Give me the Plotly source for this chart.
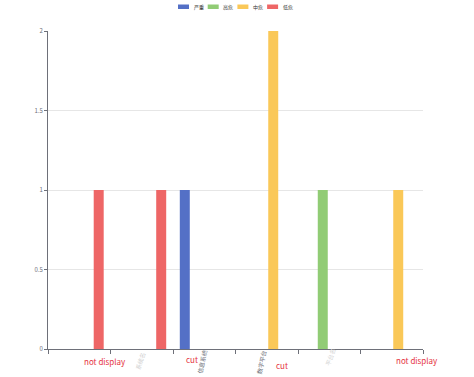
import plotly.graph_objects as go

categories = ["类别A", "类别B", "信息系统", "数字平台", "类别E", "类别F"]
series_names = ["严重", "高危", "中危", "低危"]
series_colors = ["#5470c6", "#91cc75", "#fac858", "#ee6666"]
values_severe = [None, None, 1, None, None, None]
values_high = [None, None, None, None, 1, None]
values_mid = [None, None, None, 2, None, 1]
values_low = [1, 1, None, None, None, None]
y_ticks = [0, 0.5, 1, 1.5, 2]

W, H = 474, 377
L, R, T, B = 48, 51, 31, 28
pw, ph = W - L - R, H - T - B

def px_x(p):
    return (p - L) / pw

def px_y(p):
    return (H - B - p) / ph

# label annotations: (text, x index, pixel y centre, color, angle, size)
label_notes = [
    ("not display", 0.41, 361, "#e5323e", 0, 8),
    ("cut", 1.80, 359, "#e5323e", 0, 8),
    ("cut", 3.24, 365, "#e5323e", 0, 8),
    ("not display", 5.40, 360, "#e5323e", 0, 8),
    ("系统名", 0.97, 361, "#cfcfcf", -72, 6),
    ("信息系统", 1.96, 362, "#6E7079", -78, 6),
    ("数字平台", 2.91, 362, "#6E7079", -78, 6),
    ("平台名", 4.01, 357, "#d4d4d4", -70, 6),
]

all_values = [values_severe, values_high, values_mid, values_low]

fig = go.Figure()
for name, color, vals in zip(series_names, series_colors, all_values):
    fig.add_trace(go.Bar(x=list(range(len(categories))), y=vals, name=name,
                         marker_color=color, marker_line_width=0))

for text, xi, py, col, ang, sz in label_notes:
    fig.add_annotation(text=text, x=xi, xref="x", y=px_y(py), yref="paper",
                       xanchor="center", yanchor="middle",
                       showarrow=False, textangle=ang,
                       font=dict(color=col, size=sz))

# compact legend like the reference
leg_start = 178
leg_step = 29.7
for i, (name, color) in enumerate(zip(series_names, series_colors)):
    x0 = leg_start + i * leg_step
    fig.add_shape(type="rect", xref="paper", yref="paper",
                  x0=px_x(x0), x1=px_x(x0 + 11), y0=px_y(9), y1=px_y(4.5),
                  fillcolor=color, line_width=0)
    fig.add_annotation(text=name, xref="paper", yref="paper",
                       x=px_x(x0 + 13.5), y=px_y(6.8), xanchor="left", yanchor="middle",
                       showarrow=False, font=dict(size=5, color="#333"))

fig.update_layout(
    width=W, height=H,
    margin=dict(l=L, r=R, t=T, b=B),
    paper_bgcolor="white", plot_bgcolor="white",
    barmode="group", bargap=0.17, bargroupgap=0.23,
    font=dict(family="Noto Sans CJK SC, sans-serif", size=8, color="#6E7079"),
    showlegend=False,
    xaxis=dict(range=[-0.5, 5.5], showticklabels=False, showline=True,
               linecolor="#6E7079", ticks="outside", ticklen=4, tickcolor="#6E7079",
               tickvals=[i - 0.5 for i in range(len(categories) + 1)],
               showgrid=False, zeroline=False),
    yaxis=dict(range=[0, 2], tickvals=y_ticks, ticktext=["0", "0.5", "1", "1.5", "2"],
               showline=True, linecolor="#6E7079", ticks="outside", ticklen=3,
               tickcolor="#6E7079", gridcolor="#E6E6E6", zeroline=False,
               tickfont=dict(size=6, color="#6E7079")),
)
fig.write_html("out.html")
